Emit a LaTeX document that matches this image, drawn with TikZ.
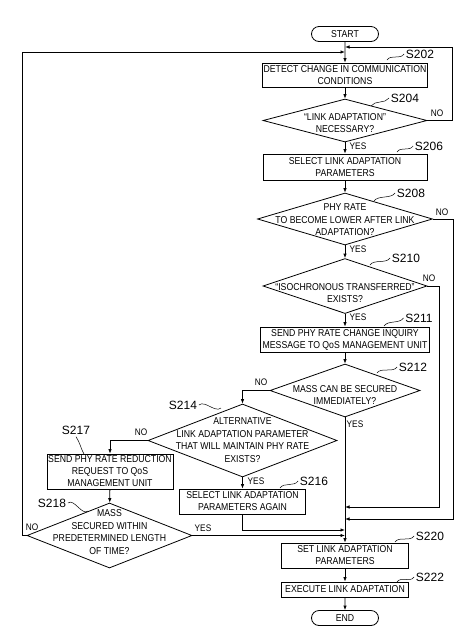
\documentclass[tikz,border=0pt]{standalone}
\usepackage{fontspec}
\setmainfont{Liberation Sans}
\newfontfamily\slimfont{Liberation Sans}[FakeStretch=0.87,Ligatures=TeX]
\usetikzlibrary{shapes.geometric,shapes.misc,arrows.meta}

\begin{document}
\begin{tikzpicture}[x=1pt,y=-1pt,line width=.8pt,
    box/.style={draw,rectangle,inner sep=0pt,align=center,font=\slimfont\fontsize{10}{12}\selectfont},
    decision/.style={draw,diamond,inner sep=0pt},
    dtext/.style={align=center,inner sep=0pt,font=\slimfont\fontsize{10}{12.5}\selectfont},
    term/.style={draw,rounded rectangle,minimum width=67pt,minimum height=15pt,inner sep=0pt,font=\slimfont\fontsize{10}{12}\selectfont},
    yn/.style={inner sep=0pt,font=\slimfont\fontsize{9.5}{10}\selectfont},
    tag/.style={inner sep=0pt,font=\fontsize{12}{12}\selectfont},
    arr/.style={-{Latex[length=4.5pt,width=3.5pt]}}]
    \useasboundingbox (0,0) rectangle (474,641);
    %terminals and steps down the main line
    \node[term] (start) at (345,34) {START};
    \node[box,minimum width=165pt,minimum height=24pt] (s202) at (345,75) {DETECT CHANGE IN COMMUNICATION\\CONDITIONS};
    \node[decision,minimum width=164pt,minimum height=43pt] (s204) at (345,120.5) {};
    \node[dtext] (s204t) at (345,123) {“LINK ADAPTATION”\\NECESSARY?};
    \node[box,minimum width=164pt,minimum height=26pt] (s206) at (345,167) {SELECT LINK ADAPTATION\\PARAMETERS};
    \node[decision,minimum width=175pt,minimum height=52pt] (s208) at (345,219) {};
    \node[dtext] (s208t) at (345,220) {PHY RATE\\TO BECOME LOWER AFTER LINK\\ADAPTATION?};
    \node[decision,minimum width=164pt,minimum height=55pt] (s210) at (345,286) {};
    \node[dtext] (s210t) at (345,293) {“ISOCHRONOUS TRANSFERRED”\\EXISTS?};
    \node[box,minimum width=169pt,minimum height=25pt] (s211) at (345,339.5) {SEND PHY RATE CHANGE INQUIRY\\MESSAGE TO QoS MANAGEMENT UNIT};
    \node[decision,minimum width=150pt,minimum height=53pt] (s212) at (345,390.5) {};
    \node[dtext] (s212t) at (345,395) {MASS CAN BE SECURED\\IMMEDIATELY?};
    %left branch
    \node[decision,minimum width=189pt,minimum height=73pt] (s214) at (242.5,440.5) {};
    \node[dtext] (s214t) at (242.5,440) {ALTERNATIVE\\LINK ADAPTATION PARAMETER\\THAT WILL MAINTAIN PHY RATE\\EXISTS?};
    \node[box,minimum width=126pt,minimum height=35pt] (s217) at (110,471.5) {SEND PHY RATE REDUCTION\\REQUEST TO QoS\\MANAGEMENT UNIT};
    \node[box,minimum width=126pt,minimum height=25pt] (s216) at (242.5,501.5) {SELECT LINK ADAPTATION\\PARAMETERS AGAIN};
    \node[decision,minimum width=165pt,minimum height=65pt] (s218) at (109.5,535.5) {};
    \node[dtext] (s218t) at (109.5,532) {MASS\\SECURED WITHIN\\PREDETERMINED LENGTH\\OF TIME?};
    %last steps
    \node[box,minimum width=127pt,minimum height=25pt] (s220) at (345,555.5) {SET LINK ADAPTATION\\PARAMETERS};
    \node[box,minimum width=127pt,minimum height=15pt] (s222) at (345,589.5) {EXECUTE LINK ADAPTATION};
    \node[term] (end) at (345,618) {END};
    %points where loops join the main line
    \coordinate (jtopR) at (345,47);
    \coordinate (jtopL) at (345,52);
    \coordinate (jR2) at (345,507);
    \coordinate (jR3) at (345,519);
    \coordinate (jL2) at (345,530);
    \coordinate (jL3) at (345,535.5);
    %main flow
    \draw[arr] (start) -- (s202);
    \draw[arr] (s202) -- (s204);
    \draw[arr] (s204) -- (s206);
    \draw[arr] (s206) -- (s208);
    \draw[arr] (s208) -- (s210);
    \draw[arr] (s210) -- (s211);
    \draw[arr] (s211) -- (s212);
    \draw[arr] (s212) -- (s220);
    \draw[arr] (s220) -- (s222);
    \draw[arr] (s222) -- (end);
    %loops and branches
    \draw[arr] (s204.east) -- ++(25,0) |- (jtopR);
    \draw[arr] (s218.west) -- ++(-4.5,0) |- (jtopL);
    \draw[arr] (s208.east) -- ++(20,0) |- (jR3);
    \draw[arr] (s210.east) -- ++(12,0) |- (jR2);
    \draw[arr] (s212.west) -| (s214.north);
    \draw[arr] (s214.west) -| (s217.north);
    \draw[arr] (s214) -- (s216);
    \draw[arr] (s217) -- (s218);
    \draw[arr] (s216.south) |- (jL2);
    \draw[arr] (s218.east) -- (jL3);
    %yes / no
    \node[yn] (n204) at (437,113) {NO};
    \node[yn] (y204) at (358,146) {YES};
    \node[yn] (n208) at (442,212) {NO};
    \node[yn] (y208) at (358,249) {YES};
    \node[yn] (n210) at (429,278) {NO};
    \node[yn] (y210) at (358,317) {YES};
    \node[yn] (n212) at (261,382) {NO};
    \node[yn] (y212) at (355,424) {YES};
    \node[yn] (n214) at (141,432) {NO};
    \node[yn] (y214) at (256,481) {YES};
    \node[yn] (n218) at (32,527) {NO};
    \node[yn] (y218) at (203,528) {YES};
    %step numbers
    \node[tag] (t202) at (420,54) {S202};
    \node[tag] (t204) at (405,98) {S204};
    \node[tag] (t206) at (429,146) {S206};
    \node[tag] (t208) at (411,193) {S208};
    \node[tag] (t210) at (406,258) {S210};
    \node[tag] (t211) at (419,318) {S211};
    \node[tag] (t212) at (413,367) {S212};
    \node[tag] (t214) at (183,405) {S214};
    \node[tag] (t216) at (314,481) {S216};
    \node[tag] (t217) at (76,430) {S217};
    \node[tag] (t218) at (52,503) {S218};
    \node[tag] (t220) at (430,536) {S220};
    \node[tag] (t222) at (430,577) {S222};
    \draw[line width=.5pt] (387,60) .. controls +(4,-6) and +(-4,6) .. ([xshift=-1.5pt]t202.west);
    \draw[line width=.5pt] (371,106) .. controls +(4,-6) and +(-4,6) .. ([xshift=-1.5pt]t204.west);
    \draw[line width=.5pt] (397,152) .. controls +(4,-6) and +(-4,6) .. ([xshift=-1.5pt]t206.west);
    \draw[line width=.5pt] (374,201) .. controls +(4,-6) and +(-4,6) .. ([xshift=-1.5pt]t208.west);
    \draw[line width=.5pt] (370,265) .. controls +(4,-6) and +(-4,6) .. ([xshift=-1.5pt]t210.west);
    \draw[line width=.5pt] (384,326) .. controls +(4,-6) and +(-4,6) .. ([xshift=-1.5pt]t211.west);
    \draw[line width=.5pt] (377,373) .. controls +(4,-6) and +(-4,6) .. ([xshift=-1.5pt]t212.west);
    \draw[line width=.5pt] ([xshift=1.5pt]t214.east) .. controls +(6,-5) and +(-6,5) .. (221,408);
    \draw[line width=.5pt] (280,488) .. controls +(4,-6) and +(-4,6) .. ([xshift=-1.5pt]t216.west);
    \draw[line width=.5pt] ([yshift=-2pt]t217.south) .. controls +(4,6) and +(-3,-5) .. (84,454);
    \draw[line width=.5pt] ([xshift=1.5pt]t218.east) .. controls +(6,-5) and +(-6,5) .. (88,511);
    \draw[line width=.5pt] (395,542) .. controls +(4,-6) and +(-4,6) .. ([xshift=-1.5pt]t220.west);
    \draw[line width=.5pt] (397,582) .. controls +(4,-6) and +(-4,6) .. ([xshift=-1.5pt]t222.west);
\end{tikzpicture}
\end{document}
